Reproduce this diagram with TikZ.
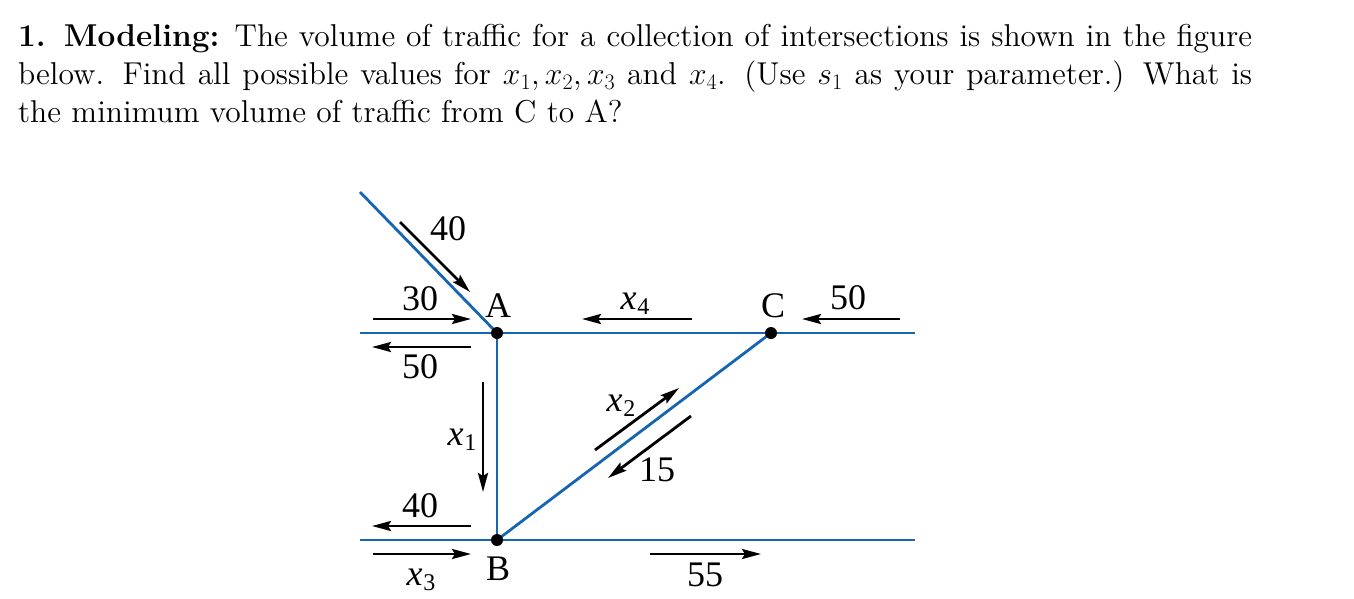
\RequirePackage{fix-cm}
\documentclass[tikz,border=0pt]{standalone}
\usepackage{fontspec}
\newfontfamily\diagfont{Liberation Serif}
\newfontfamily\qfont{lmroman12-regular.otf}[BoldFont=lmroman12-bold.otf,ItalicFont=lmroman12-italic.otf]
\usetikzlibrary{arrows.meta}
\definecolor{roadblue}{RGB}{22,101,178}
\newcommand\xvar[1]{\textit{x}\kern1pt\raisebox{-0.3ex}{\fontsize{24}{24}\selectfont #1}}
\begin{document}
\begin{tikzpicture}[x=1pt,y=-1pt,
  road/.style={draw=roadblue,line width=2.8pt},
  flow/.style={draw=black,line width=2.8pt,-{Stealth[length=19pt,width=10pt,inset=3pt]}},
  lbl/.style={font=\diagfont\fontsize{36}{36}\selectfont,inner sep=0pt},
  junction/.style={circle,fill=black,inner sep=0pt,minimum size=12pt}]
\useasboundingbox (0,0) rectangle (1354,598);
\node[anchor=base west,text width=1234pt,align=justify,inner sep=0pt,
  font=\qfont\fontsize{31.6}{38}\selectfont] (q) at (18,46.5)
  {\textbf{1. Modeling:} The volume of traffic for a collection of intersections is shown in the figure\linebreak
   below. Find all possible values for $x_1, x_2, x_3$ and $x_4$. (Use $s_1$ as your parameter.) What is\linebreak
   the minimum volume of traffic from C to A?};
% junctions
\coordinate (A) at (497,333);
\coordinate (B) at (497,540);
\coordinate (C) at (771,333);
\coordinate (nw) at (360,192);
\coordinate (tl) at (360,333);
\coordinate (tr) at (915,333);
\coordinate (bl) at (360,540);
\coordinate (br) at (915,540);
% roads
\draw[road] (nw) -- (A);
\draw[road] (tl) -- (tr);
\draw[road] (bl) -- (br);
\draw[road] (A) -- (B);
\draw[road] (B) -- (C);
\node[junction] (dA) at (A) {};
\node[junction] (dB) at (B) {};
\node[junction] (dC) at (C) {};
% flow arrow endpoints
\coordinate (f40s) at (400,222); \coordinate (f40e) at (470,292);
\coordinate (f30s) at (373,319); \coordinate (f30e) at (471,319);
\coordinate (f50s) at (471,347); \coordinate (f50e) at (372,347);
\coordinate (fx1s) at (483,382); \coordinate (fx1e) at (483,492);
\coordinate (fb40s) at (471,526); \coordinate (fb40e) at (372,526);
\coordinate (fx3s) at (373,554); \coordinate (fx3e) at (471,554);
\coordinate (fx4s) at (692,319); \coordinate (fx4e) at (582,319);
\coordinate (fc50s) at (900,319); \coordinate (fc50e) at (802,319);
\coordinate (fx2s) at (595,450); \coordinate (fx2e) at (679,388);
\coordinate (f15s) at (691,416); \coordinate (f15e) at (608,478);
\coordinate (f55s) at (650,554); \coordinate (f55e) at (761,554);
\draw[flow] (f40s) -- (f40e);
\draw[flow] (f30s) -- (f30e);
\draw[flow] (f50s) -- (f50e);
\draw[flow] (fx1s) -- (fx1e);
\draw[flow] (fb40s) -- (fb40e);
\draw[flow] (fx3s) -- (fx3e);
\draw[flow] (fx4s) -- (fx4e);
\draw[flow] (fc50s) -- (fc50e);
\draw[flow] (fx2s) -- (fx2e);
\draw[flow] (f15s) -- (f15e);
\draw[flow] (f55s) -- (f55e);
% labels
\node[lbl] (l40) at (448,229) {40};
\node[lbl] (l30) at (420,299) {30};
\node[lbl] (l50) at (420,367) {50};
\node[lbl] (lA) at (498,306) {A};
\node[lbl] (lx4) at (635,304) {\xvar{4}};
\node[lbl] (lC) at (773,306) {C};
\node[lbl] (lc50) at (848,298) {50};
\node[lbl] (lx2) at (621,406) {\xvar{2}};
\node[lbl] (lx1) at (462,440) {\xvar{1}};
\node[lbl] (l15) at (657,470) {15};
\node[lbl] (lb40) at (420,506) {40};
\node[lbl] (lB) at (498,569) {B};
\node[lbl] (lx3) at (421,580) {\xvar{3}};
\node[lbl] (l55) at (705,575) {55};
\end{tikzpicture}
\end{document}
